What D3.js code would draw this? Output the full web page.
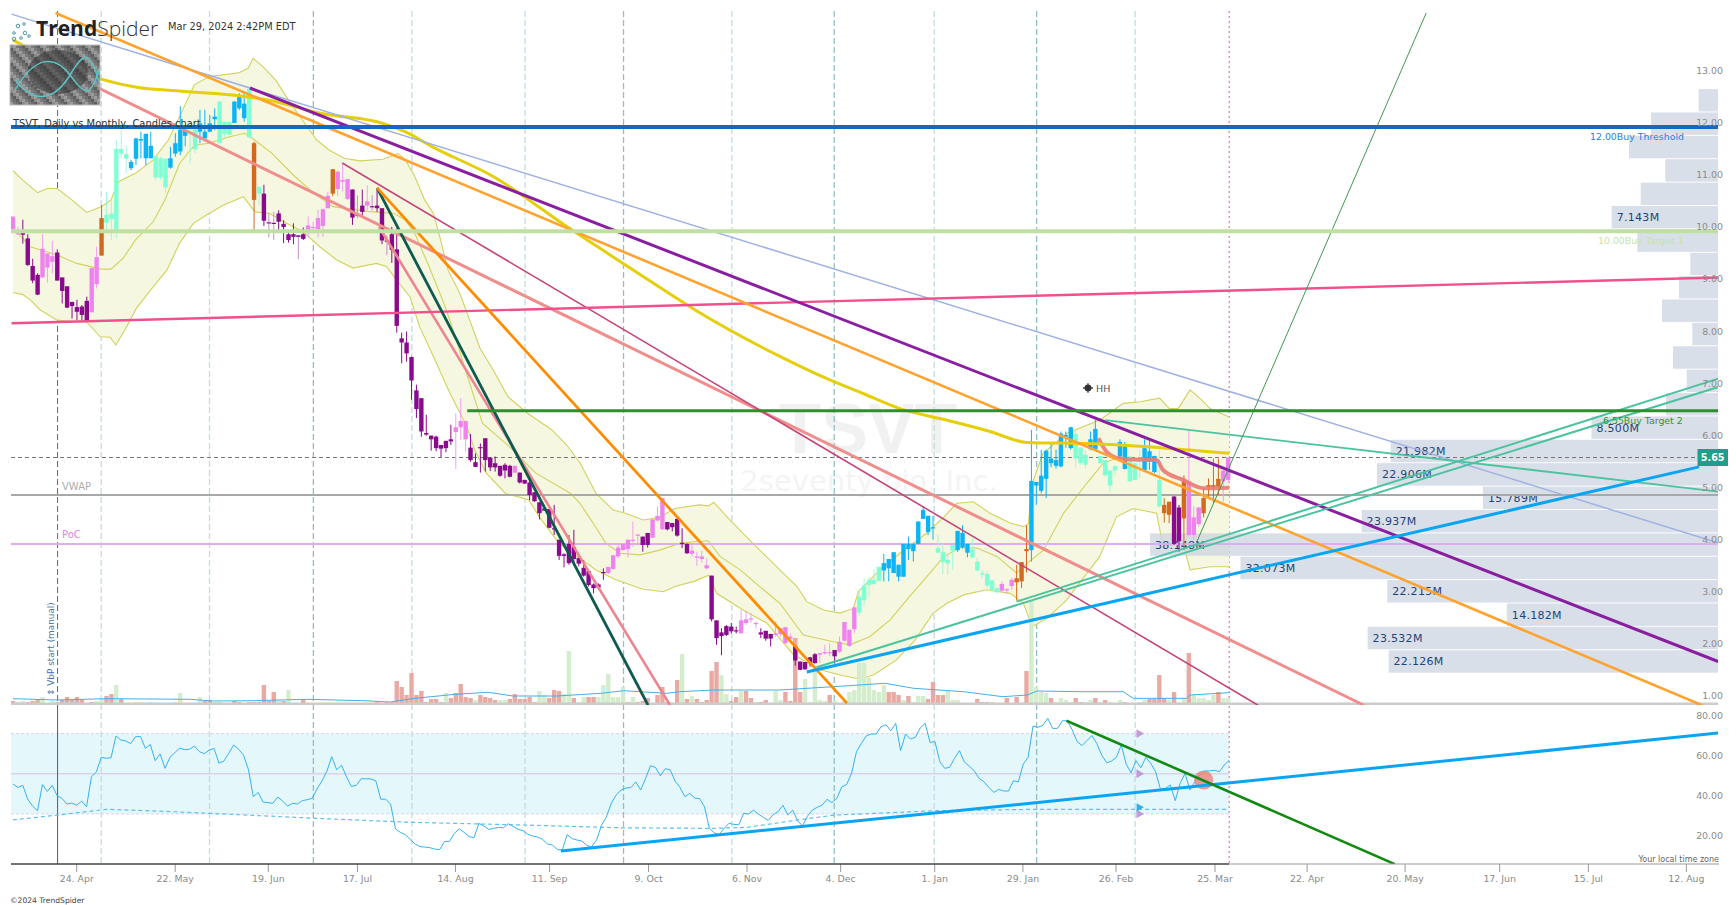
<!DOCTYPE html>
<html>
<head>
<meta charset="utf-8">
<title>TSVT</title>
<script src="https://cdn.jsdelivr.net/npm/d3@7"></script>
<style>
  html, body { margin: 0; padding: 0; background: #fff; }
  svg { display: block; font-family: "DejaVu Sans", sans-serif; }
</style>
</head>
<body>
<svg id="chart" width="1736" height="905"></svg>
<script>
// candles: wick high, body top, body bottom, wick low
// p = purple, l = purple with pale wick, v = pink, a = aqua, b = blue, o = orange
var candleKind = "vvppppvvvpppppppvvoaaaaabbbbbaaabbbbaabbbbaaabbba" +
  "oapllpppplpvvvvvovvvplpvlpplpppppppppppppvvvpp" +
  "pppppppvppppppppppppp" +
  "pppppvvvvvvvppvvvpppppvvvvppppppvvvvpppvvvvpppppvvvpvvvvaaaaabbbbbbbbbbbaaaabbbaaaaaavvvooobbbbbbbbba" +
  "aabbaaaabbaaabbbaooppovvvoooovv";

var candleHigh = [10.28,10.08,10.22,9.94,9.47,9.19,9.94,9.57,9.81,9.65,9.11,8.94,8.64,8.68,8.58,8.74,9.29,9.7,10.5,10.76,
  10.6,11.75,11.94,11.65,11.37,11.8,11.91,11.87,11.91,11.44,11.43,11.39,11.62,11.88,12.4,12.0,12.1,12.15,12.33,12.33,
  12.23,12.36,12.49,12.1,12.1,12.49,12.65,12.65,12.74,
  11.72,10.85,10.89,10.34,10.37,10.4,10.21,10.02,10.15,9.92,10.07,10.28,10.18,10.41,10.42,10.76,11.19,11.17,11.3,11.0,
  10.8,10.69,10.8,10.88,10.69,10.8,10.44,9.92,10.08,10.05,8.05,8.07,7.59,7.05,6.79,6.47,6.07,6.07,5.89,5.97,6.28,6.5,
  6.79,6.35,6.1,5.73,
  5.92,6.02,5.65,5.67,5.49,5.54,5.51,5.49,5.36,5.22,5.19,4.99,4.79,4.74,4.66,4.74,4.07,3.81,4.16,4.26,3.72,
  3.68,3.47,3.23,3.23,3.52,3.55,3.77,3.97,3.99,4.07,4.42,4.17,4.13,4.2,4.46,4.71,4.87,4.41,4.39,4.48,4.29,4.0,4.0,3.84,
  3.86,3.71,3.38,2.52,2.37,2.43,2.47,2.4,2.72,2.69,2.66,2.5,2.37,2.32,2.26,2.5,2.37,2.39,2.27,2.03,1.73,1.72,1.82,1.89,
  1.89,2.05,2.08,1.95,2.21,2.49,2.34,2.77,3.11,3.33,3.36,3.49,3.55,3.8,3.7,3.83,3.59,3.99,4.13,4.0,4.42,4.71,4.53,4.53,
  4.16,4.0,3.81,3.97,4.24,4.35,3.99,4.1,3.72,3.49,3.46,3.29,3.14,3.27,3.14,3.34,3.59,3.64,4.35,6.18,5.18,5.8,5.8,5.92,
  5.8,6.15,6.15,6.24,6.18,
  5.84,5.79,6.15,6.37,5.68,5.6,5.4,5.49,6.0,5.95,5.67,5.54,5.79,6.0,5.97,5.68,5.79,4.87,4.8,4.91,4.74,5.31,6.18,4.71,
  4.69,5.06,5.25,5.63,5.63,5.4,5.65];
var candleTop = [10.28,9.96,9.96,9.86,9.33,9.16,9.66,9.57,9.52,9.59,9.11,8.94,8.64,8.54,8.55,8.66,9.29,9.5,10.25,10.31,
  10.34,11.58,11.58,11.48,11.33,11.78,11.77,11.87,11.64,11.44,11.4,11.39,11.4,11.69,11.95,11.93,11.91,11.95,12.07,11.91,
  12.07,12.2,12.49,12.1,12.1,12.49,12.6,12.45,12.74,
  11.69,10.85,10.72,10.17,10.16,10.34,10.14,9.94,9.94,9.92,9.94,10.11,10.08,10.25,10.42,10.68,11.19,11.14,10.98,11.0,
  10.8,10.32,10.49,10.57,10.48,10.49,10.44,9.82,9.94,9.65,7.94,7.86,7.58,6.94,6.79,6.12,6.07,6.05,5.89,5.97,6.0,6.23,
  6.35,6.35,5.84,5.56,
  5.85,6.02,5.65,5.54,5.49,5.51,5.49,5.49,5.36,5.22,5.17,4.98,4.79,4.67,4.66,4.29,4.07,3.79,3.99,3.93,3.72,
  3.53,3.47,3.21,3.21,3.45,3.55,3.77,3.92,3.99,4.07,4.07,4.17,4.13,4.2,4.46,4.53,4.87,4.41,4.39,4.47,4.01,3.99,3.86,3.75,
  3.75,3.58,3.38,2.52,2.29,2.41,2.4,2.33,2.52,2.54,2.56,2.47,2.29,2.32,2.26,2.27,2.37,2.39,2.21,2.02,1.73,1.72,1.81,1.87,
  1.89,1.91,1.91,1.95,2.11,2.49,2.34,2.77,2.98,3.19,3.3,3.3,3.55,3.62,3.7,3.83,3.59,3.99,3.99,3.99,4.42,4.64,4.53,4.31,
  3.91,3.83,3.68,3.97,4.24,4.2,3.99,3.89,3.65,3.43,3.41,3.29,3.14,3.22,3.12,3.3,3.33,3.64,3.89,5.2,5.18,5.3,5.78,5.63,
  5.6,6.11,6.08,6.23,6.1,
  5.84,5.7,6.0,6.2,5.68,5.6,5.4,5.49,5.95,5.86,5.67,5.54,5.65,5.83,5.77,5.68,5.22,4.74,4.8,4.9,4.69,5.2,5.19,4.5,
  4.69,4.87,5.12,5.12,5.24,5.4,5.65];
var candleBottom = [10.04,9.94,9.93,9.35,9.05,8.78,9.11,9.3,9.41,9.05,8.85,8.53,8.56,8.45,8.39,8.28,8.44,8.98,9.53,10.16,
  10.23,10.02,11.49,11.39,11.21,11.39,11.74,11.4,11.4,11.03,11.03,10.84,11.22,11.49,11.53,11.83,11.88,11.57,11.91,11.78,
  11.91,12.15,11.69,11.87,11.85,12.08,12.36,12.17,11.8,
  10.6,10.72,10.2,10.15,10.14,10.18,10.08,9.83,9.89,9.89,9.85,10.02,10.06,10.03,10.1,10.44,10.72,10.81,10.95,10.62,
  10.26,10.3,10.37,10.49,10.46,10.44,9.82,9.8,9.64,8.18,7.86,7.65,7.13,6.58,6.15,6.09,6.0,5.83,5.82,5.83,5.96,6.14,
  6.23,6.0,5.6,5.47,
  5.83,5.6,5.46,5.46,5.3,5.4,5.28,5.36,5.17,5.15,4.93,4.81,4.58,4.63,4.3,4.27,3.76,3.76,3.62,3.7,3.61,
  3.38,3.2,3.14,3.15,3.43,3.43,3.51,3.75,3.87,3.89,4.05,4.15,3.97,3.97,4.11,4.44,4.27,4.27,4.31,4.15,4.0,3.81,3.8,3.73,
  3.7,3.52,2.54,2.18,2.22,2.24,2.31,2.31,2.27,2.47,2.54,2.45,2.25,2.17,2.17,2.24,2.26,2.08,2.17,1.75,1.57,1.58,1.71,1.7,
  1.86,1.89,1.89,1.83,1.92,2.13,2.03,2.35,2.67,2.91,3.2,3.22,3.28,3.48,3.52,3.43,3.36,3.36,3.89,3.85,3.99,4.47,4.22,4.29,
  3.82,3.64,3.61,3.86,3.87,3.92,3.82,3.73,3.48,3.4,3.19,3.11,3.06,3.09,3.11,3.18,3.25,3.27,3.85,3.87,5.11,5.01,5.24,5.54,
  5.49,5.48,6.05,5.83,5.63,
  5.54,5.51,5.81,5.81,5.54,5.31,5.11,5.4,5.67,5.43,5.19,5.22,5.6,5.41,5.57,5.37,4.71,4.58,4.55,3.99,4.04,4.48,4.16,4.16,
  4.37,4.58,5.08,5.08,5.08,5.19,5.22];
var candleLow = [9.96,9.94,9.76,9.33,9.0,8.77,9.11,9.01,9.19,9.05,8.61,8.52,8.32,8.29,8.29,8.28,8.44,8.9,9.53,10.02,
  9.82,9.86,11.4,11.11,11.17,11.27,11.4,11.27,11.4,10.98,10.98,10.74,11.2,11.43,11.46,11.63,11.3,11.5,11.69,11.78,
  11.91,11.94,11.69,11.81,11.85,12.08,12.33,12.1,11.8,
  10.02,10.5,10.1,9.88,9.83,10.02,9.77,9.78,9.75,9.46,9.83,9.88,9.96,9.88,9.89,10.44,10.67,10.68,10.76,10.6,
  10.12,10.25,10.3,10.4,10.4,10.37,9.75,9.54,9.39,8.05,7.46,7.49,6.76,6.41,6.05,6.07,5.78,5.77,5.66,5.75,5.89,5.43,
  5.99,5.77,5.57,5.47,
  5.36,5.38,5.39,5.38,5.28,5.25,5.27,5.35,5.15,5.14,4.83,4.8,4.46,4.63,4.29,4.16,3.68,3.54,3.59,3.61,3.56,
  3.36,3.17,3.04,3.11,3.3,3.41,3.49,3.71,3.86,3.73,3.94,3.96,3.84,3.92,4.1,4.42,4.26,4.25,4.23,4.13,3.91,3.8,3.75,3.57,
  3.63,3.5,2.5,2.05,1.85,2.22,2.27,2.27,2.27,2.43,2.47,2.37,2.18,2.13,2.02,2.21,2.21,2.08,2.08,1.65,1.56,1.57,1.63,1.69,
  1.7,1.86,1.83,1.69,1.89,2.11,2.01,2.27,2.61,2.79,2.98,3.2,3.27,3.27,3.27,3.43,3.27,3.36,3.68,3.65,3.99,4.47,4.16,4.07,
  3.81,3.4,3.4,3.49,3.84,3.9,3.73,3.71,3.46,3.33,3.14,3.07,3.04,3.07,3.03,3.11,2.9,3.14,3.44,3.65,4.74,4.96,4.87,5.46,
  5.44,5.46,5.83,5.8,5.46,
  5.51,5.44,5.79,5.79,5.54,5.27,4.99,5.31,5.6,5.42,5.19,5.22,5.25,5.4,5.41,5.35,4.69,4.4,4.39,3.97,3.84,3.87,4.13,4.07,
  4.32,4.5,4.88,4.77,4.93,4.8,5.15];

// volume in millions and side, r = down day, g = up day
var volumeM = [.4,.3,.4,.3,.4,.5,.8,.2,.4,.3, .5,.8,.5,.8,.5,.2,.3,.4,.6,.9, 1.1,2,.6,.2,.2,.3,.3,.2,.3,.2,
  .2,.2,.2,.3,1.2,.2,.2,.2,.8,.4, .5,.3,.3,.2,.2,.4,.3,.2,.3,.3, .3,2,.4,1.3,.5,.4,1.5,.2,.2,.5,
  .2,.2,.1,.1,.2,.1,.2,.1,.1,.2, .2,.1,.2,.2,.3,.2,.3,.3,
  2.4,1.8,1,3.2,1,1.4,.3,.6,.6,.3, 1.2,.7,1.2,2.1,.8,.7,.5,1,.8,.7, .5,.5,.5,.6,1.1,.6,.6,.8,.3,1.4,
  1,.7,1.5,1.4,1.1,5.4,.7,.3,
  .8,.8,.8,.8,2,3.1,.8,.8,1.8,.3, .8,.3,.4,.7,.2,1,1.8,.3,.2,2.5, 5.1,.6,.9,.6,.3,.5,3.4,4.3,3,1.1,
  .4,.8,1.4,1.4,.7,.3,.3,.5,.2,1.4, .5,1.3,.4,6.7,1.3,2.6,.3,3.3,.5,.4, 1,.4,.2,.4,1.3,1.5,4.2,4.2,2.7,1.5,
  1.3,2,1.3,1.3,1,.5,.9,.3,.9,.9, .6,2.3,1,1,1.5,.5,.5,.2,.2,.2, .6,.3,.3,.3,.2,.2,.7,.2,.8,.2, 3.4,10.5,
  1.8,1.3,1.2,.7,.3,.7,.5,.3,.7,.3, .3,.5,.7,.3,.5,.3,.2,.5,.3,.2, .2,.3,.5,.6,.6,3,.7,.5,1.3,.3,
  .7,5.2,1,.7,.7,.5,1,1.3,.7,.7];
var volumeSide = "rggrrrgrgr" + "rrrrrrrggr" + "rgrrgggrgr" + "grgggggrgr" + "rggrgrrrrr" + "rrrrgrggrr" +
  "rrrgrrgrgr" + "rrrrrrrr" + "rrrrrrrrrr" + "grrrrrgrrr" + "rggrrrrrrg" + "grrrggrg" +
  "grrggggggr" + "grrrrrrrrr" + "grgrrrrrgg" + "rrgrrgrrgg" + "grrrrggggg" + "rggggggggg" +
  "ggrrrgrggg" + "rrrrgggrrg" + "rrrgggrgrg" + "rg" +
  "gggrggggrr" + "ggrgrgggrr" + "gggrrrrgrg" + "grgggggrgg";

var volumeMaBars = [0,9,19,36,41,49,60,71.6,77,82,90.3,97,102,111,120,124.6,133.4,136,143,156.5,167.4,178,183.8,194,202,207,209,217.8,226.6,228.6,239.5,240.2,248.2];
var volumeMa = [.63,.5,.63,.57,.4,.43,.57,.43,.3,.67,1.07,1.27,.9,.9,1.17,1.43,1.17,1.33,1.5,1.5,1.83,2.17,1.67,1.33,.83,1,1.4,1.33,1.33,.67,.67,1,1.23];

// bollinger bands and the 200 day average, knots
var upperBars = [0,2,5,7,9,12,15,18,20,21.5,25,28.6,31.7,34,37,40,46,48,49,51,53.6,56.7,60,62,64.5,67.6,70.8,75.5,78.6,80,82,84,85.8,87.1,88.8,91.2,93.2,95.3,98,101,105,110,113,115.7,119,122.5,125,128.6,132,135,140,142,143,146.3,151,156.5,160,162,165.4,168.8,171.5,172.5,176.9,181,186.5,190,192.6,196,199.4,203.5,206.2,207.2,208,210.2,215,221.8,226.6,230,234,236,237.8,240.2,242.2,244.3,248.2];
var upperBand = [11.16,10.98,10.74,10.82,10.82,10.6,10.36,10.47,10.6,10.95,11.11,11.37,11.75,12.2,12.81,12.97,13.04,13.13,13.32,13.16,12.9,12.45,12.01,11.75,11.56,11.4,11.35,11.38,11.49,11.38,11.05,10.6,10.34,9.89,9.25,8.8,8.29,7.75,7.33,6.82,6.5,6.18,5.89,5.55,4.96,4.64,4.58,4.45,4.5,4.67,4.74,4.72,4.79,4.45,4,3.49,3.17,2.88,2.72,2.66,2.75,3.07,3.49,3.81,4.2,4.51,4.77,4.8,4.58,4.39,4.32,4.37,5.15,5.73,6.11,6.37,6.69,6.72,6.79,6.59,6.59,6.95,6.79,6.59,6.43];
var midBars = [0,2,3.5,9,13,18,20,22.5,25,28.6,31,34,37,40,44,47.3,49.3,52.8,57.5,61.4,65.3,72.3,77.8,80,82,85,88,90,91.9,95.8,101.3,106.7,113.8,115.7,118.4,121,123.9,127.9,132,136,139,141.9,144.3,148.4,152.4,156.5,161.3,167.4,170.8,174.9,179,183,186.5,190,193.3,196.7,200.8,204.8,207,210.3,214.4,219.1,222.5,225,233.4,234.7,238.8,242.9,248.2];
var midBand = [10.05,9.86,9.7,9.54,9.38,9.27,9.27,9.48,9.83,10.18,10.6,11.3,11.65,11.69,11.81,11.88,11.75,11.5,11.05,10.73,10.47,10.38,10.34,10.22,9.96,9.3,8.6,8.05,7.46,6.31,5.86,5.35,4.96,4.77,4.39,4,3.81,3.78,3.87,4,4.03,4.05,3.75,3.49,3.17,2.85,2.24,2.11,2.05,2.21,2.53,2.98,3.36,3.75,3.92,3.91,3.75,3.43,3.62,3.87,4.58,5.15,5.54,5.63,5.6,5.41,5.22,5.06,5.07];
var lowerBars = [0,2,3.5,5.5,9,13,15,17.8,19.8,21,23,25.2,28.6,31.4,34,36.8,40,43,47,49.4,52.4,55.8,59.2,62.6,66,69.4,74.2,76.2,78.3,81,83,85.8,89.2,92.6,94.2,96.6,100.5,105.2,107.5,111.4,115.7,119,123,128.6,132.7,135.4,139,142,143.6,149,153.8,159.3,164.7,168.8,172.9,175.6,180.3,184,187.8,190.6,194,198.7,203.5,206.2,208,211,215,221.8,225.2,228.6,233.4,234.7,238.8,240.2,244.3,248.2];
var lowerBand = [8.82,8.78,8.68,8.49,8.29,8.26,8.26,7.97,7.96,7.81,8.13,8.52,8.93,9.25,9.77,10.15,10.34,10.5,10.66,10.37,10.34,10.15,9.99,9.7,9.45,9.29,9.38,9.32,9.06,8.74,8.16,7.59,6.88,6.25,5.8,5.35,4.96,4.84,4.5,4,3.71,3.49,3.3,3.12,3.07,3.18,3.27,3.39,3.04,2.72,2.47,1.86,1.57,1.47,1.39,1.47,1.76,2.13,2.66,2.85,3.01,3.11,3.04,2.85,2.4,2.56,2.91,3.75,4.51,4.67,4.58,3.94,4,3.49,3.55,3.55];
var avgBars = [0,18,25.5,32.5,44.2,52,63,75.5,80,85.6,98,113,119.8,133,140,155.5,166.7,173.5,181,190.5,199.4,206.9,217.7,221.8,235.4,248.2];
var avgLine = [13.67,12.92,12.76,12.7,12.62,12.52,12.26,12.07,11.91,11.62,11.05,10.09,9.67,8.86,8.44,7.64,7.14,6.88,6.59,6.37,6.15,5.94,5.92,5.91,5.83,5.73];
var redBars = [221.5,223.2,225.9,228.6,233.4,234.7,238.8,242.9,248.2];
var redLine = [6.02,5.76,5.63,5.61,5.6,5.41,5.22,5.06,5.07];

// trend lines as [bar, price] pairs
var lavenderLine = [[-.3,14.17],[348,4.01]];
var orangeWide = [[8.67,14.19],[344.7,.89]];
var purpleLine = [[48.37,12.75],[348,1.73]];
var salmonWide = [[-.4,13.57],[275.7,.89]];
var salmonSteep = [[74.7,10.08],[134.1,.89]];
var tealSteep = [[74.3,10.83],[129.6,.89]];
var orangeSteep = [[74.3,10.83],[170.2,.93]];
var crimsonLine = [[67.2,11.31],[254.1,.89]];
var pinkLine = [[-.3,8.23],[348.4,9.11]];
var blueRise = [[162,1.53],[344.1,5.47]];
var seaRiseA = [[164,1.62],[348.2,7.01]];
var seaRiseB = [[204.8,2.88],[348.2,7.17]];
var seaFall = [[222.9,6.37],[348.2,4.99]];
var greenSteep = [[241.6,4.03],[288.4,14.19]];

// volume by price, top row first
var vbpVolume = [1.3,4.5,5.98,3.54,5.19,7.143,5.42,1.86,2.62,3.76,1.73,3.02,2.1,3.49,8.5,21.982,22.906,15.789,23.937,38.148,32.073,22.215,14.182,23.532,22.126];
var vbpLabel = ["","","","","","7.143M","","","","","","","","","8.500M","21.982M","22.906M","15.789M","23.937M","38.148M","32.073M","22.215M","14.182M","23.532M","22.126M"];

// rsi, one value per session
var rsiValues = [44.9,43.2,44.2,37.3,33.9,31.6,44.6,41.2,44.2,39.1,37.7,34.9,35.4,34.3,36.4,33.6,48.5,50.9,58.2,57.7,58,68.8,66.8,66.3,65,68.5,68.5,62.6,64.6,56.5,59.8,52.7,58.2,60.5,62.8,62,62.2,63.8,61,60,61.8,62.6,55.3,56.3,60.2,64.3,62.2,59.3,52.2,38.6,40.7,35.9,35.6,35.3,38.4,36.4,33.9,35.3,34.9,36.6,37.1,37.7,42.4,46.4,51.2,58.5,52,54.2,48.5,43.7,44.2,47.5,47.5,47.4,46.4,37.3,37.3,34.9,22.5,20.8,19.7,17.3,15,13.7,13.5,13.2,12.5,12.2,16.3,16.3,20.3,22.6,20.8,18.7,18.2,25.3,24,22.3,22.8,23.3,23.1,25.1,23.8,22.3,21.7,19.8,19,18.5,17.3,15,14.5,12.3,12,19.7,17.7,17,16.5,14.3,13.7,17,24.3,28.6,35.3,39.4,
  41.9,42.9,43.1,45.9,41.9,47.7,54,53.2,49,52.5,52,46.4,43.2,38.6,40.2,37.9,37.6,33.6,22.8,20.6,19.7,22.8,25.3,24.8,24.6,30.3,29.9,31.9,29.9,28.3,26.8,29.6,31.1,34.3,29.5,31.9,26.6,24,28.9,31.9,33.3,34.4,37.3,35.6,37.7,43.5,44.7,50.2,61,65.1,68.8,69.8,69.8,73.4,74.4,71.4,75.1,61.5,69.8,67.3,68.1,72.8,75.1,65.6,66,56,52.7,53.2,57.7,61.5,55.8,53.8,51.5,47.7,46,43.2,40.7,42.2,41.4,41.4,46.5,45.9,54.8,58.2,73.8,73.1,74.1,77.6,72.6,72.6,76.4,76.4,71.8,66,64,66.5,69,65.1,59.3,55.5,56.3,58.2,64.3,54.8,50.5,56.5,53,58.2,55.2,51,42.2,42.7,44.4,36.6,45.2,50.2,41.9,46,49.4,51.4,51.4,51.7,51,54.3,56.8];
var rsiMaBars = [0,9,19.1,29.6,40,62,81.3,102.3,124,142.5,149.7,160.2,167.5,188.5,208.9,229,248];
var rsiMa = [27,29.4,32.3,31.4,30.3,27.8,25.8,24.6,23.1,22.8,23.3,27,29.4,31.6,32.3,32.3,32.3];
var rsiBlueLine = [[111.8,11.5],[348.2,70.3]];
var rsiGreenLine = [[215,76.4],[282,5]];

// axes
var priceTicks = [13,12,11,10,9,8,7,6,5,4,3,2,1];
var rsiTicks = [80,60,40,20];
var dateLabels = ["24. Apr","22. May","19. Jun","17. Jul","14. Aug","11. Sep","9. Oct","6. Nov","4. Dec","1. Jan","29. Jan","26. Feb","25. Mar","22. Apr","20. May","17. Jun","15. Jul","12. Aug"];
var dateBars = [12.9,33,52,70.2,90.2,109.4,129.6,149.7,168.8,188,206,225,245.2,264,284,303.3,321.4,341.4];
var periodBars = [18,40.1,61.3,81.4,104.5,124.6,146.7,167.6,188,208.9,229];
var periodDark = [0,0,1,0,0,1,0,1,0,1,0];
var vbpStartBar = 9.1;
var lastBar = 248.2;

var svg = d3.select("#chart");
var x = d3.scaleLinear().domain([0, 248]).range([13, 1228.2]);
var y = d3.scaleLinear().domain([1, 13]).range([699.5, 75]);
var r = d3.scaleLinear().domain([80, 20]).range([713.5, 834]);
var volY = d3.scaleLinear().domain([0, 11]).range([705, 595]);
var vbpX = d3.scaleLinear().domain([0, 38.148]).range([1718, 1150]);
var vbpY = d3.scaleBand().domain(d3.range(vbpVolume.length)).range([y(12.73), y(1.515)]).paddingInner(0.04);
var candleBar = d3.scaleLinear().domain([0, candleHigh.length - 1]).range([0, 248]);
var volumeBar = d3.scaleLinear().domain([0, volumeM.length - 1]).range([0, 248]);
var rsiBar = d3.scaleLinear().domain([0, rsiValues.length - 1]).range([0, 248.2]);

var defs = svg.append("defs");
defs.append("clipPath").attr("id", "pricePane").append("rect").attr("x", 11).attr("y", 11).attr("width", 1707).attr("height", 694);
defs.append("clipPath").attr("id", "rsiPane").append("rect").attr("x", 11).attr("y", 708).attr("width", 1707).attr("height", 156);

function pairs(bars, vals) { return bars.map(function(b, i) { return [b, vals[i]]; }); }
var priceLine = d3.line().x(function(d) { return x(d[0]); }).y(function(d) { return y(d[1]); });
var rsiLine = d3.line().x(function(d) { return x(d[0]); }).y(function(d) { return r(d[1]); });
var smoothLine = d3.line().x(function(d) { return x(d[0]); }).y(function(d) { return y(d[1]); }).curve(d3.curveMonotoneX);

// watermark
svg.append("text").attr("x", 868).attr("y", 453).attr("text-anchor", "middle").attr("font-family", "Liberation Sans")
  .attr("font-size", 70).attr("font-weight", "bold").attr("fill", "#f1f1f1").text("TSVT");
svg.append("text").attr("x", 869).attr("y", 491).attr("text-anchor", "middle")
  .attr("font-size", 29).attr("fill", "#f4f4f4").text("2seventy bio, Inc.");

// rsi channel
svg.append("rect").attr("x", 11).attr("width", 1218).attr("y", r(70)).attr("height", r(30) - r(70)).attr("fill", "#e4f7fa");
[70, 50, 30].forEach(function(v) {
  svg.append("line").attr("x1", 11).attr("x2", 1229).attr("y1", r(v)).attr("y2", r(v))
    .attr("stroke", "#d9d3ee").attr("stroke-width", v == 50 ? 1.5 : 1).attr("stroke-dasharray", v == 50 ? null : "3,2");
});

// session dividers
svg.selectAll(".period").data(periodBars).enter().append("line").attr("class", "period")
  .attr("x1", function(d) { return x(d); }).attr("x2", function(d) { return x(d); })
  .attr("y1", 11).attr("y2", 864)
  .attr("stroke", function(d, i) { return periodDark[i] ? "#94bfc0" : "#c0dcde"; })
  .attr("stroke-width", 1.3).attr("stroke-dasharray", "6,3");
svg.append("line").attr("x1", x(vbpStartBar)).attr("x2", x(vbpStartBar)).attr("y1", 11).attr("y2", 705)
  .attr("stroke", "#4a6a9c").attr("stroke-width", 1).attr("stroke-dasharray", "6,3");
svg.append("line").attr("x1", x(vbpStartBar)).attr("x2", x(vbpStartBar)).attr("y1", 705).attr("y2", 864)
  .attr("stroke", "#3f5f94").attr("stroke-width", 1);
svg.append("line").attr("x1", x(lastBar)).attr("x2", x(lastBar)).attr("y1", 11).attr("y2", 864)
  .attr("stroke", "#f0508c").attr("stroke-width", 1).attr("stroke-dasharray", "2,3");

// bands
var upperPts = pairs(upperBars, upperBand), lowerPts = pairs(lowerBars, lowerBand);
var bandPane = svg.append("g").attr("clip-path", "url(#pricePane)");
bandPane.append("path").attr("d", priceLine(upperPts.concat(lowerPts.slice().reverse())) + "Z").attr("fill", "#f5f7e1");
[upperPts, pairs(midBars, midBand), lowerPts].forEach(function(pts) {
  bandPane.append("path").attr("d", priceLine(pts)).attr("fill", "none").attr("stroke", "#d2d25c").attr("stroke-width", 1.1);
});

// volume by price
var vbp = svg.append("g");
vbp.selectAll("rect").data(vbpVolume).enter().append("rect")
  .attr("x", function(d) { return vbpX(d); })
  .attr("width", function(d) { return 1718 - vbpX(d); })
  .attr("y", function(d, i) { return vbpY(i); })
  .attr("height", vbpY.bandwidth())
  .attr("fill", "#cbd3e0").attr("fill-opacity", 0.72);
vbp.selectAll("text").data(vbpVolume).enter().append("text")
  .attr("x", function(d) { return vbpX(d) + 5; })
  .attr("y", function(d, i) { return vbpY(i) + vbpY.bandwidth() / 2 + 4; })
  .attr("font-size", 11).attr("letter-spacing", 0.3).attr("fill", "#1f4378")
  .text(function(d, i) { return vbpLabel[i]; });

// everything above the profile
var pricePane = svg.append("g").attr("clip-path", "url(#pricePane)");

// volume
pricePane.selectAll(".vol").data(volumeM).enter().append("rect").attr("class", "vol")
  .attr("x", function(d, i) { return x(volumeBar(i)) - 2.2; })
  .attr("width", 4.4)
  .attr("y", function(d) { return volY(d); })
  .attr("height", function(d) { return 705 - volY(d); })
  .attr("fill", function(d, i) { return volumeSide[i] == "g" ? "#d4edcd" : "#e9aaa3"; });
pricePane.append("path")
  .attr("d", d3.line().x(function(d) { return x(d[0]); }).y(function(d) { return volY(d[1]); })(pairs(volumeMaBars, volumeMa)))
  .attr("fill", "none").attr("stroke", "#45aee8").attr("stroke-width", 1);
pricePane.append("line").attr("x1", 11).attr("x2", 1718).attr("y1", 704).attr("y2", 704).attr("stroke", "#cccccc").attr("stroke-width", 3);

// reference levels under the candles
pricePane.append("line").attr("x1", 11).attr("x2", 1718).attr("y1", y(5.65)).attr("y2", y(5.65))
  .attr("stroke", "#777").attr("stroke-width", 1).attr("stroke-dasharray", "4,3");
pricePane.append("line").attr("x1", 11).attr("x2", 1718).attr("y1", y(4.93)).attr("y2", y(4.93)).attr("stroke", "#a8a8a8").attr("stroke-width", 2);
pricePane.append("line").attr("x1", 11).attr("x2", 1718).attr("y1", y(3.99)).attr("y2", y(3.99)).attr("stroke", "#dcaef0").attr("stroke-width", 2);

// candles
var bodyColor = { p: "#8a0a8e", l: "#8a0a8e", v: "#ee82ee", a: "#7fffd4", b: "#0ab4f5", o: "#d2691e" };
var wickColor = { p: "#8a0a8e", l: "#c48fcb", v: "#f0a0f0", a: "#a5f5dc", b: "#0ab4f5", o: "#d2691e" };
var candles = pricePane.selectAll(".candle").data(candleHigh).enter().append("g").attr("class", "candle");
candles.append("line")
  .attr("x1", function(d, i) { return x(candleBar(i)); }).attr("x2", function(d, i) { return x(candleBar(i)); })
  .attr("y1", function(d) { return y(d); }).attr("y2", function(d, i) { return y(candleLow[i]); })
  .attr("stroke", function(d, i) { return wickColor[candleKind[i]]; }).attr("stroke-width", 1);
candles.append("rect")
  .attr("x", function(d, i) { return x(candleBar(i)) - 2.2; }).attr("width", 4.4)
  .attr("y", function(d, i) { return y(candleTop[i]); })
  .attr("height", function(d, i) { return Math.max(1.2, y(candleBottom[i]) - y(candleTop[i])); })
  .attr("fill", function(d, i) { return bodyColor[candleKind[i]]; });

// averages
pricePane.append("path").attr("d", smoothLine(pairs(redBars, redLine))).attr("fill", "none").attr("stroke", "#ec7a78").attr("stroke-width", 4).attr("stroke-opacity", 0.9);
pricePane.append("path").attr("d", smoothLine(pairs(avgBars, avgLine))).attr("fill", "none").attr("stroke", "#e5cf0a").attr("stroke-width", 3);

// trend lines
function trend(pts, color, width) {
  pricePane.append("path").attr("d", priceLine(pts)).attr("fill", "none").attr("stroke", color).attr("stroke-width", width);
}
trend(lavenderLine, "#9fb1e2", 1.5);
trend(salmonWide, "#f08d8d", 3);
trend(salmonSteep, "#ee8490", 2.6);
trend(crimsonLine, "#c5447a", 1.6);
trend(pinkLine, "#f0508c", 2.4);
trend(tealSteep, "#0c5a50", 2.8);
trend(orangeSteep, "#ff8c00", 2.8);
trend(orangeWide, "#ffa32e", 2.6);
trend(purpleLine, "#8a1ea0", 3);
trend(seaRiseB, "#4cc39f", 2);
trend(seaRiseA, "#4cc39f", 2);
trend(seaFall, "#4cc39f", 1.8);
trend(blueRise, "#0aa5f2", 3);
trend(greenSteep, "#3f9a50", 1);

// horizontal buy levels
pricePane.append("line").attr("x1", 11).attr("x2", 1718).attr("y1", y(12)).attr("y2", y(12)).attr("stroke", "#1269c4").attr("stroke-width", 4);
pricePane.append("line").attr("x1", 11).attr("x2", 1718).attr("y1", y(10)).attr("y2", y(10)).attr("stroke", "#c0e0a2").attr("stroke-width", 4);
pricePane.append("line").attr("x1", x(92.7)).attr("x2", 1718).attr("y1", y(6.55)).attr("y2", y(6.55)).attr("stroke", "#2f8f2f").attr("stroke-width", 3);

// level captions
function caption(px, py, txt, color, size) {
  return svg.append("text").attr("x", px).attr("y", py).attr("font-size", size).attr("fill", color).text(txt);
}
caption(1590, 140, "12.00Buy Threshold", "#1f80e4", 9.4);
caption(1598, 244, "10.00Buy Target 1", "#c6e2a8", 9.4);
caption(1603, 424, "6.55Buy Target 2", "#2f962f", 9.4);
caption(62, 490, "VWAP", "#adadad", 10);
caption(62, 538, "PoC", "#e284ea", 10);
svg.append("text").attr("transform", "translate(54,696) rotate(-90)").attr("font-size", 8.9).attr("fill", "#46709f").text("\u21D5 VbP start (manual)");
caption(1096, 392, "HH", "#555", 9.5);
var hh = svg.append("g").attr("transform", "translate(1088,388)");
hh.append("circle").attr("r", 3.4).attr("fill", "#333");
hh.append("line").attr("x1", -5).attr("x2", 5).attr("stroke", "#333").attr("stroke-width", 1.4);
hh.append("line").attr("y1", -5).attr("y2", 5).attr("stroke", "#333").attr("stroke-width", 1);

// current price tag
svg.append("rect").attr("x", 1697.5).attr("width", 30.5).attr("y", y(5.65) - 8.5).attr("height", 17).attr("fill", "#1f9e8b");
svg.append("text").attr("x", 1712.7).attr("y", y(5.65) + 3.5).attr("text-anchor", "middle").attr("font-size", 9.6).attr("font-weight", "bold").attr("fill", "#fff").text("5.65");

// rsi pane
var rsiPane = svg.append("g").attr("clip-path", "url(#rsiPane)");
rsiPane.append("path").attr("d", rsiLine(pairs(rsiMaBars, rsiMa))).attr("fill", "none").attr("stroke", "#5cc0f2").attr("stroke-width", 1.2).attr("stroke-dasharray", "4,3");
rsiPane.append("path").attr("d", rsiLine(rsiValues.map(function(v, i) { return [rsiBar(i), v]; }))).attr("fill", "none").attr("stroke", "#35b2f2").attr("stroke-width", 1);
rsiPane.append("circle").attr("cx", x(243)).attr("cy", r(46.9)).attr("r", 9.6).attr("fill", "#ec8080").attr("fill-opacity", 0.8);
rsiPane.append("path").attr("d", rsiLine(rsiBlueLine)).attr("stroke", "#0aa5f2").attr("stroke-width", 3).attr("fill", "none");
rsiPane.append("path").attr("d", rsiLine(rsiGreenLine)).attr("stroke", "#128a12").attr("stroke-width", 2.6).attr("fill", "none");
[70, 50, 30].forEach(function(v) {
  svg.append("path").attr("d", d3.symbol().type(d3.symbolTriangle).size(34)())
    .attr("transform", "translate(" + x(229.8) + "," + r(v) + ") rotate(90)").attr("fill", "#c29bd9");
});
svg.append("path").attr("d", d3.symbol().type(d3.symbolTriangle).size(30)())
  .attr("transform", "translate(" + x(229.8) + "," + r(33.3) + ") rotate(90)").attr("fill", "#2bb0f0");

// axes
var priceAxis = svg.append("g").attr("transform", "translate(1723,0)")
  .call(d3.axisRight(y).tickValues(priceTicks).tickFormat(d3.format(".2f")).tickSize(0).tickPadding(0));
priceAxis.select(".domain").remove();
priceAxis.selectAll("text").attr("text-anchor", "end").attr("dy", 0).attr("y", -1.2).attr("font-size", 9.4).attr("font-family", "DejaVu Sans").attr("fill", "#8a8a8a");

var rsiAxis = svg.append("g").attr("transform", "translate(1723,0)")
  .call(d3.axisRight(r).tickValues(rsiTicks).tickFormat(d3.format(".2f")).tickSize(0).tickPadding(0));
rsiAxis.select(".domain").remove();
rsiAxis.selectAll("text").attr("text-anchor", "end").attr("dy", 0).attr("y", 4.8).attr("font-size", 9.4).attr("font-family", "DejaVu Sans").attr("fill", "#8a8a8a");

var dateAxis = svg.append("g").attr("transform", "translate(0,864)")
  .call(d3.axisBottom(x).tickValues(dateBars).tickFormat(function(d, i) { return dateLabels[i]; }).tickSize(8).tickPadding(3));
dateAxis.select(".domain").remove();
dateAxis.selectAll("line").attr("stroke", "#999");
dateAxis.selectAll("text").attr("font-size", 9.4).attr("font-family", "DejaVu Sans").attr("fill", "#8a8a8a");
svg.append("line").attr("x1", 11).attr("x2", 1229).attr("y1", 864).attr("y2", 864).attr("stroke", "#444").attr("stroke-width", 1.6);
svg.append("line").attr("x1", 1229).attr("x2", 1719).attr("y1", 864).attr("y2", 864).attr("stroke", "#999").attr("stroke-width", 1.2);
svg.append("text").attr("x", 1719).attr("y", 862).attr("text-anchor", "end").attr("font-size", 8).attr("fill", "#666").text("Your local time zone");
caption(10, 903, "\u00A92024 TrendSpider", "#444", 7.6);

// header
var thumb = svg.append("g").attr("transform", "translate(10,45)");
d3.range(30).forEach(function(j) {
  d3.range(20).forEach(function(k) {
    thumb.append("rect").attr("x", j * 3).attr("y", k * 3).attr("width", 3).attr("height", 3)
      .attr("fill", ["#8a8a8a", "#6f6f6f", "#9c9c9c", "#5e5e5e", "#7c7c7c"][(j * 7 + k * 13) % 5]);
  });
});
thumb.append("ellipse").attr("cx", 48).attr("cy", 27).attr("rx", 30).attr("ry", 22).attr("fill", "#333").attr("fill-opacity", 0.55);
thumb.append("path").attr("d", "M5,45 C25,10 45,10 60,30 S80,55 90,22").attr("fill", "none").attr("stroke", "#5fc2c4").attr("stroke-width", 1.5);
thumb.append("path").attr("d", "M5,35 C25,60 45,55 60,30 S80,5 90,40").attr("fill", "none").attr("stroke", "#5fc2c4").attr("stroke-width", 1.5);
thumb.append("rect").attr("width", 90).attr("height", 60).attr("fill", "none").attr("stroke", "#bbb");

[[14,33],[18,26],[24,24],[25,33],[29,36],[14,39],[21,38]].forEach(function(d, i) {
  svg.append("circle").attr("cx", d[0]).attr("cy", d[1]).attr("r", i % 2 ? 1.8 : 1.3).attr("fill", "none").attr("stroke", "#3d8f9a").attr("stroke-width", 0.9);
});
var logo = svg.append("text").attr("x", 36).attr("y", 36).attr("font-size", 21).attr("font-family", "Open Sans, sans-serif").attr("fill", "#222");
logo.append("tspan").attr("font-weight", "bold").text("Trend");
logo.append("tspan").attr("font-weight", "300").attr("fill", "#333").text("Spider");
caption(168, 30, "Mar 29, 2024 2:42PM EDT", "#333", 9.8);
caption(13, 127, "TSVT, Daily vs Monthly, Candles chart", "#333", 9.9).raise();
</script>
</body>
</html>
